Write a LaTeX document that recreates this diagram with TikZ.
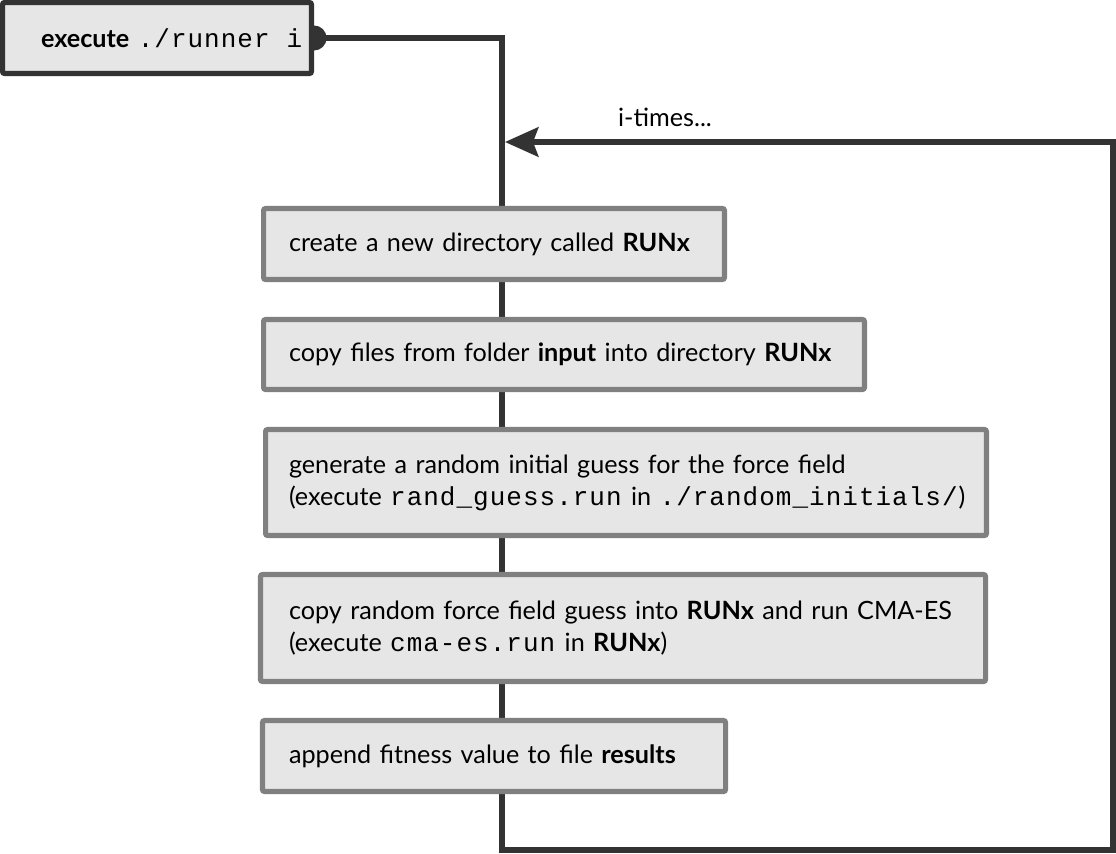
\documentclass[tikz,border=0pt]{standalone}
\usepackage{fontspec}
\setmainfont{Lato}
\setmonofont{Liberation Mono}[Scale=1.03,LetterSpace=4]
\usetikzlibrary{arrows.meta,backgrounds}
\definecolor{dark}{HTML}{333333}
\definecolor{boxgray}{HTML}{808080}
\definecolor{boxfill}{HTML}{E6E6E6}
\begin{document}
\begin{tikzpicture}[x=0.75pt,y=-0.75pt,
  every node/.style={font=\fontsize{18.9}{24}\selectfont},
  startbox/.style={draw=dark, fill=boxfill, line width=3.8pt, rounded corners=1.5pt, inner xsep=0pt, inner ysep=0pt, text width=231.75pt, minimum height=53.25pt, align=left},
  stepbox/.style={draw=boxgray, fill=boxfill, line width=3.8pt, rounded corners=1.5pt, inner ysep=0pt, align=left},
  conn/.style={draw=dark, line width=4.2pt},
  lbl/.style={inner sep=0pt}]
\useasboundingbox (0,0) rectangle (1116,853);
\node[startbox] (top) at (157,38) {\hspace*{28.9pt}\textbf{execute} \texttt{./runner\hspace{0.65em}i}};
\node[stepbox, inner xsep=19.1pt, text width=307.5pt, minimum height=53.25pt] (s1) at (494,244) {create a new directory called \textbf{RUNx}};
\node[stepbox, inner xsep=19.1pt, text width=412.5pt, minimum height=52.5pt] (s2) at (564,354.5) {copy files from folder \textbf{input} into directory \textbf{RUNx}};
\node[stepbox, inner xsep=17.6pt, text width=505.5pt, minimum height=79.5pt] (s3) at (626,482.5) {generate a random initial guess for the force field\\\mbox{(execute \texttt{rand\_guess.run} in \texttt{./random\_initials/})}};
\node[stepbox, inner xsep=21.4pt, text width=501pt, minimum height=80.25pt] (s4) at (623,628) {copy random force field guess into \textbf{RUNx} and run CMA-ES\\\mbox{(execute \texttt{cma-es.run} in \textbf{RUNx})}};
\node[stepbox, inner xsep=19.9pt, text width=307.5pt, minimum height=53.25pt] (s5) at (494,756) {append fitness value to file \textbf{results}};
\node[lbl] (itimes) at (665,117) {i-times...};
\coordinate (spineTop) at (502,38);
\coordinate (spineBot) at (502,850);
\coordinate (loopBR) at (1113,850);
\coordinate (loopTR) at (1113,142);
\coordinate (entry) at (505,142);
\begin{scope}[on background layer]
\draw[conn] (top.east |- spineTop) -- (spineTop) -- (spineBot) -- (loopBR) -- (loopTR) -- ++(-10,0);
\draw[conn, -{Stealth[length=25pt,width=22pt,inset=4pt]}] (loopTR) -- (entry);
\fill[dark] (top.east |- spineTop) circle (9.4pt);
\end{scope}
\end{tikzpicture}
\end{document}
